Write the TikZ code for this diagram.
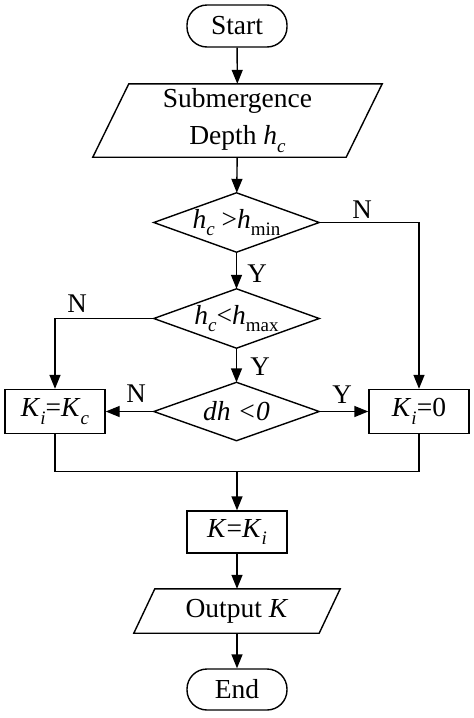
\documentclass[tikz,border=0pt]{standalone}
\usepackage{fontspec}
\setmainfont{Liberation Serif}
\usetikzlibrary{arrows.meta}
\newcommand\sbs[1]{\raisebox{-0.28em}{\fontsize{19}{19}\selectfont #1}}
\begin{document}
\begin{tikzpicture}[x=1pt,y=-1pt,
  every node/.style={font=\fontsize{27.5}{37}\selectfont, inner sep=0pt},
  ln/.style={line width=1.4pt},
  box/.style={draw, ln, minimum width=100pt, minimum height=42pt},
  term/.style={box, rounded corners=20pt},
  plain/.style={minimum width=#1},
  lab/.style={font=\fontsize{27}{27}\selectfont},
  arr/.style={ln, -{Triangle[length=14pt,width=11pt]}}
]
\useasboundingbox (0,0) rectangle (474,718);
% nodes
\node[term] (start) at (237,26) {Start};
\node[plain=289pt, minimum height=73pt, align=center] (p1) at (237.5,120.5) {Submergence\\Depth \textit{h}\sbs{\textit{c}}};
\node[plain=165pt, minimum height=59pt] (d1) at (236.5,222.5) {\textit{h}\sbs{\textit{c}} >\textit{h}\sbs{min}};
\node[plain=165pt, minimum height=59pt] (d2) at (236.5,318.5) {\textit{h}\sbs{\textit{c}}<\textit{h}\sbs{max}};
\node[plain=165pt, minimum height=58pt] (d3) at (236.5,411.5) {\textit{dh <0}};
\node[box, minimum height=44pt] (kc) at (55,411.5) {\textit{K}\sbs{\textit{i}}=\textit{K}\sbs{\textit{c}}};
\node[box, minimum height=44pt] (k0) at (419,411.5) {\textit{K}\sbs{\textit{i}}=0};
\node[box] (kk) at (237,532) {\textit{K}=\textit{K}\sbs{\textit{i}}};
\node[plain=206pt, minimum height=44pt] (p2) at (237,611) {Output \textit{K}};
\node[term, minimum height=41pt] (end) at (237,689.5) {End};
\coordinate (m) at (237,471.5);
% outlines
\draw[ln] ([xshift=36pt]p1.north west) -- (p1.north east) -- ([xshift=-36pt]p1.south east) -- (p1.south west) -- cycle;
\draw[ln] ([xshift=21pt]p2.north west) -- (p2.north east) -- ([xshift=-21pt]p2.south east) -- (p2.south west) -- cycle;
\foreach \d in {d1,d2,d3} {
  \draw[ln] (\d.north) -- (\d.east) -- (\d.south) -- (\d.west) -- cycle;
}
% connectors
\draw[arr] (start) -- (p1);
\draw[arr] (p1) -- (d1);
\draw[arr] (d1) -- (d2);
\draw[arr] (d2) -- (d3);
\draw[arr] (d1.east) -| (k0.north);
\draw[arr] (d2.west) -| (kc.north);
\draw[arr] (d3.west) -- (kc.east);
\draw[arr] (d3.east) -- (k0.west);
\draw[ln] (kc.south) |- (m) -| (k0.south);
\draw[arr] (m) -- (kk);
\draw[arr] (kk) -- (p2);
\draw[arr] (p2) -- (end);
% labels
\node[lab] (l1) at (362,210) {N};
\node[lab] (l2) at (257,274) {Y};
\node[lab] (l3) at (77,304) {N};
\node[lab] (l4) at (260,367) {Y};
\node[lab] (l5) at (136,394) {N};
\node[lab] (l6) at (342,395) {Y};
\end{tikzpicture}
\end{document}
